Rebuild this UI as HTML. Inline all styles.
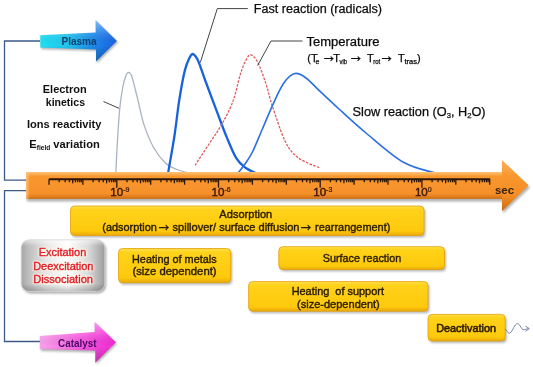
<!DOCTYPE html>
<html><head><meta charset="utf-8"><title>Plasma catalysis timescales</title>
<style>html,body{margin:0;padding:0;background:#fff}body{width:533px;height:367px;overflow:hidden}</style>
</head><body>
<svg width="533" height="367" viewBox="0 0 533 367" style="display:block">
<defs>
<linearGradient id="yel" x1="0" y1="0" x2="0" y2="1">
<stop offset="0" stop-color="#ffe14d"/><stop offset="0.12" stop-color="#ffd21a"/><stop offset="0.85" stop-color="#fdc90c"/><stop offset="1" stop-color="#e9a80a"/>
</linearGradient>
<linearGradient id="org" x1="0" y1="0" x2="0" y2="1">
<stop offset="0" stop-color="#f9a64a"/><stop offset="0.15" stop-color="#f7962e"/><stop offset="0.8" stop-color="#f08a22"/><stop offset="1" stop-color="#c96a12"/>
</linearGradient>
<linearGradient id="pls" x1="0" y1="0" x2="1" y2="0">
<stop offset="0" stop-color="#1fe2f2"/><stop offset="0.35" stop-color="#22c4f0"/><stop offset="0.68" stop-color="#1f8aea"/><stop offset="1" stop-color="#1862e2"/>
</linearGradient>
<linearGradient id="cat" x1="0" y1="0" x2="1" y2="0">
<stop offset="0" stop-color="#f9a3ec"/><stop offset="0.5" stop-color="#f75fe0"/><stop offset="1" stop-color="#f028d4"/>
</linearGradient>
<linearGradient id="gry" x1="0" y1="0" x2="1" y2="0">
<stop offset="0" stop-color="#a6a6a6"/><stop offset="0.08" stop-color="#bcbcbc"/><stop offset="0.3" stop-color="#e6e6e6"/><stop offset="0.55" stop-color="#ffffff"/><stop offset="0.8" stop-color="#dadada"/><stop offset="0.94" stop-color="#b0b0b0"/><stop offset="1" stop-color="#9c9c9c"/>
</linearGradient>
<linearGradient id="bev" x1="0" y1="0" x2="0" y2="1">
<stop offset="0" stop-color="#fff" stop-opacity="0.45"/><stop offset="0.3" stop-color="#fff" stop-opacity="0.12"/><stop offset="0.6" stop-color="#000" stop-opacity="0"/><stop offset="1" stop-color="#000" stop-opacity="0.25"/>
</linearGradient>
<linearGradient id="obev" x1="0" y1="0" x2="0" y2="1">
<stop offset="0" stop-color="#fdc27a"/><stop offset="0.09" stop-color="#fbac52"/><stop offset="0.16" stop-color="#f8982e"/><stop offset="0.8" stop-color="#f6902a"/><stop offset="0.9" stop-color="#e5801e"/><stop offset="1" stop-color="#c96c14"/>
</linearGradient>
<linearGradient id="oleft" x1="0" y1="0" x2="1" y2="0">
<stop offset="0" stop-color="#fdc27a" stop-opacity="0.9"/><stop offset="1" stop-color="#fdc27a" stop-opacity="0"/>
</linearGradient>
<linearGradient id="ohead" x1="0" y1="0" x2="0" y2="1">
<stop offset="0" stop-color="#fbb260"/><stop offset="0.3" stop-color="#f8982e"/><stop offset="0.7" stop-color="#f38c24"/><stop offset="1" stop-color="#c96c14"/>
</linearGradient>
<linearGradient id="gbev" x1="0" y1="0" x2="0" y2="1">
<stop offset="0" stop-color="#fff" stop-opacity="0.55"/><stop offset="0.12" stop-color="#fff" stop-opacity="0"/><stop offset="0.85" stop-color="#000" stop-opacity="0"/><stop offset="1" stop-color="#000" stop-opacity="0.22"/>
</linearGradient>
<filter id="blur" x="-10%" y="-30%" width="120%" height="160%"><feGaussianBlur stdDeviation="1.3"/></filter>
<filter id="glow" x="-10%" y="-30%" width="120%" height="160%"><feGaussianBlur stdDeviation="0.8"/></filter>
</defs>
<rect width="533" height="367" fill="#fff"/>

<!-- connector lines -->
<path d="M40,41H4.5V180.2H27" fill="none" stroke="#3c5a86" stroke-width="1.3"/>
<path d="M27,190.7H4.5V341.5H40" fill="none" stroke="#3c5a86" stroke-width="1.3"/>

<!-- curves -->
<path d="M115.8,172.5 C116.1,167.4 116.8,152.3 117.4,141.7 C118.1,131.1 118.8,118.3 119.7,109.0 C120.6,99.7 122.0,91.6 123.0,86.0 C124.0,80.4 125.1,77.8 126.0,75.5 C126.9,73.2 127.7,72.6 128.5,72.4 C129.3,72.2 130.3,73.3 131.0,74.5 C131.7,75.7 131.7,75.5 132.8,79.6 C133.9,83.7 135.8,91.6 137.7,99.2 C139.6,106.8 141.5,117.2 144.2,125.4 C146.9,133.6 150.4,141.9 154.0,148.2 C157.6,154.5 161.7,159.4 165.5,163.0 C169.3,166.6 172.8,167.8 177.0,169.5 C181.2,171.2 188.3,172.8 190.6,173.4" fill="none" stroke="#a9b3bf" stroke-width="1.3"/>
<path d="M168.2,172.5 C169.2,166.3 172.7,147.4 174.5,135.5 C176.3,123.6 177.4,111.9 179.1,101.1 C180.8,90.3 183.0,77.9 184.8,70.6 C186.6,63.3 188.4,60.0 189.8,57.2 C191.2,54.5 191.8,53.5 193.2,54.1 C194.6,54.7 196.1,56.4 198.2,61.0 C200.3,65.7 202.6,73.4 205.8,82.0 C209.0,90.6 213.8,103.4 217.3,112.6 C220.8,121.8 223.6,129.8 226.8,137.4 C230.0,145.0 233.2,153.3 236.4,158.4 C239.6,163.5 242.9,165.7 245.9,168.0 C248.9,170.3 253.2,171.8 254.7,172.5" fill="none" stroke="#1862dc" stroke-width="2.3" stroke-linecap="round"/>
<path d="M195.1,165.3 C197.5,161.6 205.1,150.0 209.6,143.1 C214.1,136.2 218.1,131.0 222.0,124.0 C225.9,117.0 229.9,109.4 233.0,101.1 C236.1,92.8 238.2,81.2 240.3,74.4 C242.4,67.6 244.0,63.8 245.8,60.5 C247.6,57.2 248.9,54.4 250.9,54.8 C252.9,55.2 255.5,58.0 258.0,62.9 C260.5,67.8 263.6,76.8 266.0,83.9 C268.4,91.1 269.1,96.2 272.3,105.8 C275.5,115.4 281.0,133.0 285.4,141.7 C289.8,150.4 292.8,153.6 298.5,158.0 C304.2,162.4 316.2,166.2 319.7,167.9" fill="none" stroke="#df5a5e" stroke-width="1.3" stroke-dasharray="2.6,1.3"/>
<path d="M238.0,173.0 C239.2,171.5 242.6,167.6 245.0,164.0 C247.4,160.4 249.8,157.4 252.7,151.5 C255.6,145.6 259.2,136.3 262.5,128.7 C265.8,121.1 268.8,113.4 272.3,105.8 C275.9,98.2 280.0,88.4 283.8,83.0 C287.6,77.6 291.3,74.3 295.0,73.5 C298.7,72.7 302.2,75.3 306.0,78.0 C309.8,80.7 312.5,84.2 318.0,89.4 C323.5,94.6 331.0,101.7 339.0,109.0 C347.0,116.3 355.3,124.2 366.0,133.0 C376.7,141.8 391.5,155.3 403.0,162.0 C414.5,168.7 429.7,171.2 435.0,173.0" fill="none" stroke="#2a70e2" stroke-width="1.6"/>

<!-- leader lines -->
<path d="M247.8,8.6H217.3L200.3,62.5" fill="none" stroke="#444" stroke-width="1"/>
<path d="M302.5,41H271L257.6,65.5" fill="none" stroke="#444" stroke-width="1"/>
<path d="M103.5,101.5L119,108.3" fill="none" stroke="#444" stroke-width="1"/>

<!-- orange axis -->
<path d="M27,174.5 H503 V162.5 L530,187.5 L503,213.5 V201.5 H27Z" fill="#000" opacity="0.3" filter="url(#blur)"/>
<path d="M27,172 H502 V160.3 L528.3,185.3 L502,211 V198.8 H27 Q26,198.8 26,197.8 V173 Q26,172 27,172Z" fill="#f7942a"/>
<rect x="26" y="172" width="476.2" height="26.8" fill="url(#obev)"/>
<rect x="26" y="172" width="4" height="26.8" fill="url(#oleft)"/>
<path d="M502,160.3 L528.3,185.3 L502,211Z" fill="url(#ohead)"/>
<path d="M49.0,179.2H490.2" stroke="#2a1608" stroke-width="1.9" fill="none"/>
<path d="M49.0,179.2v5.5 M59.2,179.2v3 M65.2,179.2v3 M69.4,179.2v3 M72.7,179.2v4 M75.4,179.2v3 M77.6,179.2v3 M79.6,179.2v3 M81.3,179.2v3 M82.9,179.2v5.5 M93.1,179.2v3 M99.1,179.2v3 M103.3,179.2v3 M106.6,179.2v4 M109.3,179.2v3 M111.5,179.2v3 M113.5,179.2v3 M115.2,179.2v3 M116.8,179.2v8.5 M127.0,179.2v3 M133.0,179.2v3 M137.2,179.2v3 M140.5,179.2v4 M143.2,179.2v3 M145.4,179.2v3 M147.4,179.2v3 M149.1,179.2v3 M150.7,179.2v5.5 M160.9,179.2v3 M166.9,179.2v3 M171.1,179.2v3 M174.4,179.2v4 M177.1,179.2v3 M179.3,179.2v3 M181.3,179.2v3 M183.0,179.2v3 M184.6,179.2v5.5 M194.8,179.2v3 M200.8,179.2v3 M205.0,179.2v3 M208.3,179.2v4 M211.0,179.2v3 M213.2,179.2v3 M215.2,179.2v3 M216.9,179.2v3 M218.5,179.2v8.5 M228.7,179.2v3 M234.7,179.2v3 M238.9,179.2v3 M242.2,179.2v4 M244.9,179.2v3 M247.1,179.2v3 M249.1,179.2v3 M250.8,179.2v3 M252.4,179.2v5.5 M262.6,179.2v3 M268.6,179.2v3 M272.8,179.2v3 M276.1,179.2v4 M278.8,179.2v3 M281.0,179.2v3 M283.0,179.2v3 M284.7,179.2v3 M286.3,179.2v5.5 M296.5,179.2v3 M302.5,179.2v3 M306.7,179.2v3 M310.0,179.2v4 M312.7,179.2v3 M314.9,179.2v3 M316.9,179.2v3 M318.6,179.2v3 M320.2,179.2v8.5 M330.4,179.2v3 M336.4,179.2v3 M340.6,179.2v3 M343.9,179.2v4 M346.6,179.2v3 M348.8,179.2v3 M350.8,179.2v3 M352.5,179.2v3 M354.1,179.2v5.5 M364.3,179.2v3 M370.3,179.2v3 M374.5,179.2v3 M377.8,179.2v4 M380.5,179.2v3 M382.7,179.2v3 M384.7,179.2v3 M386.4,179.2v3 M388.0,179.2v5.5 M398.2,179.2v3 M404.2,179.2v3 M408.4,179.2v3 M411.7,179.2v4 M414.4,179.2v3 M416.6,179.2v3 M418.6,179.2v3 M420.3,179.2v3 M421.9,179.2v8.5 M432.1,179.2v3 M438.1,179.2v3 M442.3,179.2v3 M445.6,179.2v4 M448.3,179.2v3 M450.5,179.2v3 M452.5,179.2v3 M454.2,179.2v3 M455.8,179.2v5.5 M466.0,179.2v3 M472.0,179.2v3 M476.2,179.2v3 M479.5,179.2v4 M482.2,179.2v3 M484.4,179.2v3 M486.4,179.2v3 M488.1,179.2v3 M489.7,179.2v5.5" stroke="#2a1608" stroke-width="1.3" fill="none"/>
<g font-family="'Liberation Sans',Arial,sans-serif" font-size="11.6" fill="#3a1606" stroke="#3a1606" stroke-width="0.4">
<text x="110.3" y="196">10<tspan font-size="7" dy="-4.2" stroke-width="0.2">-9</tspan></text>
<text x="211.6" y="196">10<tspan font-size="7" dy="-4.2" stroke-width="0.2">-6</tspan></text>
<text x="313.2" y="196">10<tspan font-size="7" dy="-4.2" stroke-width="0.2">-3</tspan></text>
<text x="414.9" y="196">10<tspan font-size="7" dy="-4.2" stroke-width="0.2">0</tspan></text>
</g>
<text x="495" y="194.3" font-family="'Liberation Sans',Arial,sans-serif" font-weight="bold" font-size="11" fill="#3a2208" textLength="19" lengthAdjust="spacingAndGlyphs">sec</text>

<!-- plasma arrow -->
<path d="M41.3,37 L96.7,34.3 V22 L118.2,42.6 L96.9,63.4 V51 L41.3,49.2Z" fill="#000" opacity="0.3" filter="url(#blur)"/>
<path d="M40.3,35.3 L95.7,32.5 V20.3 L116.9,41 L96,61.6 V49.4 L40.3,47.5Z" fill="url(#pls)"/>
<path d="M40.3,35.3 L95.7,32.5 V20.3 L116.9,41 L96,61.6 V49.4 L40.3,47.5Z" fill="url(#bev)"/>
<text x="61.5" y="45.1" font-family="'Liberation Sans',Arial,sans-serif" font-weight="bold" font-size="11" fill="#0f426e" textLength="35.1" lengthAdjust="spacingAndGlyphs">Plasma</text>

<!-- catalyst arrow -->
<path d="M40.8,337.7 L95.7,333.7 V323.8 L117.2,343.8 L96.3,364.6 V352.4 L40.8,350.9Z" fill="#000" opacity="0.3" filter="url(#blur)"/>
<path d="M39.8,336 L94.7,331.9 V322.1 L115.9,342.2 L95.3,362.8 V350.6 L39.8,349.1Z" fill="url(#cat)"/>
<path d="M39.8,336 L94.7,331.9 V322.1 L115.9,342.2 L95.3,362.8 V350.6 L39.8,349.1Z" fill="url(#bev)"/>
<text x="58.1" y="346.5" font-family="'Liberation Sans',Arial,sans-serif" font-weight="bold" font-size="11" fill="#4a0a66" textLength="38.5" lengthAdjust="spacingAndGlyphs">Catalyst</text>

<!-- gray box -->
<rect x="22.6" y="241.6" width="83.6" height="51.8" rx="8" fill="#000" opacity="0.32" filter="url(#blur)"/>
<rect x="21.2" y="239.8" width="83.6" height="51.6" rx="8" fill="url(#gry)"/>
<rect x="21.2" y="239.8" width="83.6" height="51.6" rx="8" fill="url(#gbev)" stroke="#d8d8d8" stroke-width="0.8"/>
<g font-family="'Liberation Sans',Arial,sans-serif" font-size="11" fill="#e21a28" text-anchor="middle">
<g fill="#fff" stroke="#fffbe8" stroke-width="2" opacity="0.85" filter="url(#glow)">
<text x="62.5" y="256.4" textLength="47.5" lengthAdjust="spacingAndGlyphs">Excitation</text>
<text x="63.3" y="269.8" textLength="60.2" lengthAdjust="spacingAndGlyphs">Deexcitation</text>
<text x="63.1" y="282.6" textLength="59.8" lengthAdjust="spacingAndGlyphs">Dissociation</text>
</g>
<g stroke="#e21a28" stroke-width="0.35">
<text x="62.5" y="256.4" textLength="47.5" lengthAdjust="spacingAndGlyphs">Excitation</text>
<text x="63.3" y="269.8" textLength="60.2" lengthAdjust="spacingAndGlyphs">Deexcitation</text>
<text x="63.1" y="282.6" textLength="59.8" lengthAdjust="spacingAndGlyphs">Dissociation</text>
</g>
</g>

<!-- yellow boxes -->
<rect x="72.0" y="208" width="353.5" height="29.5" rx="4" fill="#000" opacity="0.28" filter="url(#blur)"/>
<rect x="70.5" y="206" width="353.5" height="29.5" rx="4" fill="url(#yel)" stroke="#e3a008" stroke-width="0.8"/>
<rect x="120.0" y="250.5" width="112.2" height="34.2" rx="4" fill="#000" opacity="0.28" filter="url(#blur)"/>
<rect x="118.5" y="248.5" width="112.2" height="34.2" rx="4" fill="url(#yel)" stroke="#e3a008" stroke-width="0.8"/>
<rect x="280.3" y="248.7" width="165.7" height="22.8" rx="4" fill="#000" opacity="0.28" filter="url(#blur)"/>
<rect x="278.8" y="246.7" width="165.7" height="22.8" rx="4" fill="url(#yel)" stroke="#e3a008" stroke-width="0.8"/>
<rect x="250.1" y="283.6" width="179.4" height="29.6" rx="4" fill="#000" opacity="0.28" filter="url(#blur)"/>
<rect x="248.6" y="281.6" width="179.4" height="29.6" rx="4" fill="url(#yel)" stroke="#e3a008" stroke-width="0.8"/>
<rect x="429.5" y="316.4" width="77.2" height="26.6" rx="4" fill="#000" opacity="0.28" filter="url(#blur)"/>
<rect x="428" y="314.4" width="77.2" height="26.6" rx="4" fill="url(#yel)" stroke="#e3a008" stroke-width="0.8"/>
<g font-family="'Liberation Sans',Arial,sans-serif" font-size="11" fill="#2a1c04" stroke="#2a1c04" stroke-width="0.4" text-anchor="middle">
<text x="245.8" y="217.8" textLength="52.9" lengthAdjust="spacingAndGlyphs">Adsorption</text>
<g text-anchor="start">
<text x="102.3" y="231" textLength="54.6" lengthAdjust="spacingAndGlyphs">(adsorption</text>
<text x="158.6" y="232.2" font-family="'Noto Sans CJK SC',sans-serif" font-weight="bold" font-size="11" stroke-width="0">→</text>
<text x="172.5" y="231" textLength="127" lengthAdjust="spacingAndGlyphs">spillover/ surface diffusion</text>
<text x="300.6" y="232.2" font-family="'Noto Sans CJK SC',sans-serif" font-weight="bold" font-size="11" stroke-width="0">→</text>
<text x="315" y="231" textLength="75.4" lengthAdjust="spacingAndGlyphs">rearrangement)</text>
</g>
<text x="174.3" y="263.2" textLength="84.6" lengthAdjust="spacingAndGlyphs">Heating of metals</text>
<text x="174.5" y="275.2" textLength="84.2" lengthAdjust="spacingAndGlyphs">(size dependent)</text>
<text x="362" y="261.8" textLength="78.5" lengthAdjust="spacingAndGlyphs">Surface reaction</text>
<text x="337.8" y="295" textLength="92.3" lengthAdjust="spacingAndGlyphs">Heating &#160;of support</text>
<text x="338.4" y="307.5" textLength="82.8" lengthAdjust="spacingAndGlyphs">(size-dependent)</text>
<text x="466.1" y="331.7" textLength="59.8" lengthAdjust="spacingAndGlyphs" stroke="#2a1804" stroke-width="0.55">Deactivation</text>
</g>

<!-- squiggle -->
<path d="M505.3,328.7 C507,331 508,334 510,333 C513,331 514.5,323.5 517.5,323.7 C520.5,324 521,330 524,329.8 L528.5,328.5" fill="none" stroke="#6a7a9c" stroke-width="0.9"/>
<path d="M525.3,326 L529.3,328.6 L525.6,331.3" fill="none" stroke="#6a7a9c" stroke-width="0.9"/>

<!-- labels -->
<g font-family="'Liberation Sans',Arial,sans-serif" fill="#0c0c0c" stroke="#0c0c0c" stroke-width="0.25">
<text x="253.8" y="13" font-size="12.5" textLength="128.2" lengthAdjust="spacingAndGlyphs">Fast reaction (radicals)</text>
<text x="306.5" y="46" font-size="12.5" textLength="73" lengthAdjust="spacingAndGlyphs">Temperature</text>
<text x="307.3" y="62" font-size="11">(T</text>
<text x="315.6" y="63.5" font-size="7">e</text>
<text x="323.8" y="63.2" font-size="10.5" font-family="'Noto Sans CJK SC',sans-serif" font-weight="bold" stroke-width="0">→</text>
<text x="333.2" y="62" font-size="11">T</text>
<text x="339.5" y="63.5" font-size="7" textLength="7.6" lengthAdjust="spacingAndGlyphs">vib</text>
<text x="350.8" y="63.2" font-size="10.5" font-family="'Noto Sans CJK SC',sans-serif" font-weight="bold" stroke-width="0">→</text>
<text x="366.9" y="62" font-size="11">T</text>
<text x="373.2" y="63.5" font-size="7" textLength="7" lengthAdjust="spacingAndGlyphs">rot</text>
<text x="381.6" y="63.2" font-size="10.5" font-family="'Noto Sans CJK SC',sans-serif" font-weight="bold" stroke-width="0">→</text>
<text x="398.1" y="62" font-size="11">T</text>
<text x="404.4" y="63.5" font-size="7" textLength="12.6" lengthAdjust="spacingAndGlyphs">tras</text>
<text x="416.9" y="62" font-size="11">)</text>
<text x="352.6" y="116.4" font-size="12.5" textLength="133" lengthAdjust="spacingAndGlyphs">Slow reaction (O<tspan font-size="7.5" dy="2">3</tspan><tspan dy="-2">, H</tspan><tspan font-size="7.5" dy="2">2</tspan><tspan dy="-2">O)</tspan></text>
</g>
<g font-family="'Liberation Sans',Arial,sans-serif" font-weight="bold" font-size="11" fill="#111">
<text x="42.8" y="93.3" textLength="43.9" lengthAdjust="spacingAndGlyphs">Electron</text>
<text x="45.8" y="106.3" textLength="39.2" lengthAdjust="spacingAndGlyphs">kinetics</text>
<text x="26.9" y="128.4" textLength="74.6" lengthAdjust="spacingAndGlyphs">Ions reactivity</text>
<text x="29.3" y="148" textLength="70.5" lengthAdjust="spacingAndGlyphs">E<tspan font-size="6.5" dy="1.5">field</tspan><tspan dy="-1.5"> variation</tspan></text>
</g>
</svg>
</body></html>
